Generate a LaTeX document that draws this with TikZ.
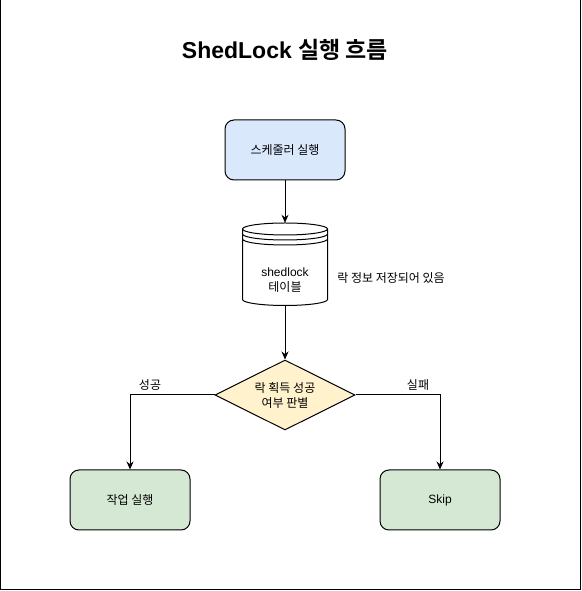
\documentclass[tikz,border=0pt]{standalone}
\usepackage{fontspec}
\setmainfont{Liberation Sans}
\newfontfamily\kr{Noto Sans CJK KR}[BoldFont={Noto Sans CJK KR Bold}]
\usetikzlibrary{shapes.geometric,arrows.meta}
\definecolor{blueF}{HTML}{DAE8FC}
\definecolor{yellowF}{HTML}{FFF2CC}
\definecolor{greenF}{HTML}{D5E8D4}
\begin{document}
\begin{tikzpicture}[x=1pt,y=1pt,
  box/.style={draw=black,line width=1pt,rounded corners=9pt,minimum width=120pt,minimum height=60pt,inner sep=0pt,font=\fontsize{12}{15}\selectfont},
  arr/.style={line width=1pt,-{Stealth[length=8pt,width=7pt]}},
  lbl/.style={font=\fontsize{12}{15}\selectfont,inner sep=0pt}]
\useasboundingbox (0,0) rectangle (581,591);
\draw[line width=1pt] (0.75,592) -- (0.75,1.25) -- (580.25,1.25) -- (580.25,592);
% title
\node (title) at (285,541) {\fontsize{23}{27}\selectfont\bfseries ShedLock {\kr\bfseries 실행 흐름}};
% scheduler
\node[box,fill=blueF] (sched) at (285,441) {\kr 스케줄러 실행};
% database cylinder
\node[minimum width=85pt,minimum height=82.5pt,inner sep=0pt] (db) at (285,326.75) {};
\draw[line width=1pt,fill=white] (242.5,362) arc[start angle=180,end angle=0,x radius=42.5,y radius=6] -- (327.5,291.5) arc[start angle=0,end angle=-180,x radius=42.5,y radius=6] -- cycle;
\draw[line width=1pt] (242.5,362) arc[start angle=180,end angle=360,x radius=42.5,y radius=6];
\draw[line width=1pt] (242.5,357) arc[start angle=180,end angle=360,x radius=42.5,y radius=6];
\draw[line width=1pt] (242.5,352) arc[start angle=180,end angle=360,x radius=42.5,y radius=6];
\node[lbl,align=center] (dbtxt) at (285,311) {shedlock\\{\kr 테이블}};
\node[lbl] (note) at (391,313) {\kr 락 정보 저장되어 있음};
% decision
\node[diamond,draw=black,fill=yellowF,line width=1pt,minimum width=140pt,minimum height=70pt,aspect=2,inner sep=0pt,align=center,font=\fontsize{12}{15}\selectfont\kr] (dia) at (285,196) {락 획득 성공\\여부 판별};
% results
\node[box,fill=greenF] (job) at (130,91) {\kr 작업 실행};
\node[box,fill=greenF] (skip) at (440,91) {Skip};
% connectors
\draw[arr] (sched.south) -- (db.north);
\draw[arr] (db.south) -- (dia.north);
\draw[arr] (dia.west) -| (job.north);
\draw[arr] (dia.east) -| (skip.north);
\node[lbl] (succ) at (150,206) {\kr 성공};
\node[lbl] (fail) at (418,206) {\kr 실패};
\end{tikzpicture}
\end{document}
